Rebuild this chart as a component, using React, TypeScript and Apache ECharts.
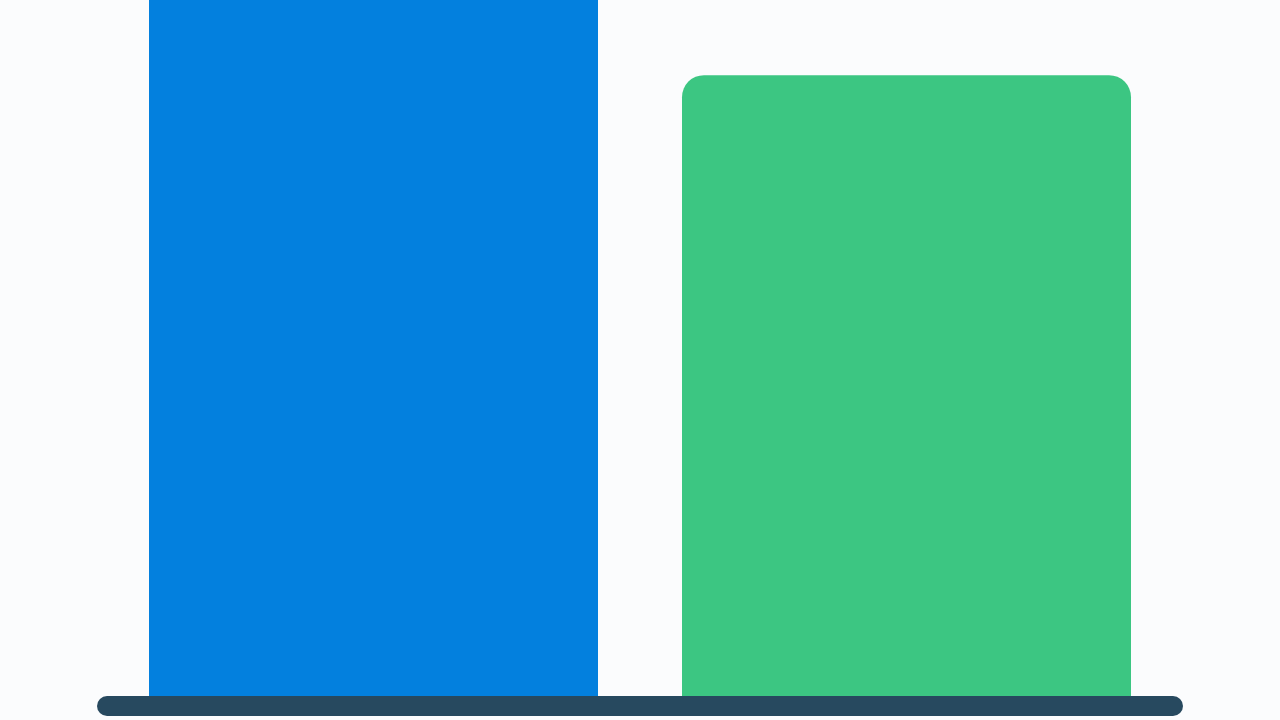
import React, { useEffect, useRef } from 'react';
import * as echarts from 'echarts';

const categories = ['A', 'B'];
const values = [110, 89.2];
const barColors = ['#0380de', '#3cc682'];
const barRadius = [0, 22];

const App: React.FC = () => {
  const chartRef = useRef<HTMLDivElement>(null);

  useEffect(() => {
    if (!chartRef.current) return;
    const chart = echarts.init(chartRef.current, undefined, { renderer: 'svg' });

    chart.setOption({
      animation: false,
      backgroundColor: '#fbfcfd',
      grid: { left: 107, right: 107, top: 0, bottom: 24 },
      xAxis: {
        type: 'category',
        data: categories,
        offset: 10,
        axisLine: { onZero: false, lineStyle: { color: '#27495f', width: 20, cap: 'round' } },
        axisTick: { show: false },
        axisLabel: { show: false },
      },
      yAxis: {
        type: 'value',
        min: 0,
        max: 100,
        show: false,
        splitLine: { show: false },
      },
      series: [
        {
          type: 'bar',
          barWidth: 449,
          clip: true,
          data: values.map((v, i) => ({
            value: v,
            itemStyle: {
              color: barColors[i],
              borderRadius: [barRadius[i], barRadius[i], 0, 0],
            },
          })),
        },
      ],
    });

    return () => {
      chart.dispose();
    };
  }, []);

  return <div ref={chartRef} style={{ position: 'fixed', left: 0, top: 0, width: '1280px', height: '720px' }} />;
};

export default App;
